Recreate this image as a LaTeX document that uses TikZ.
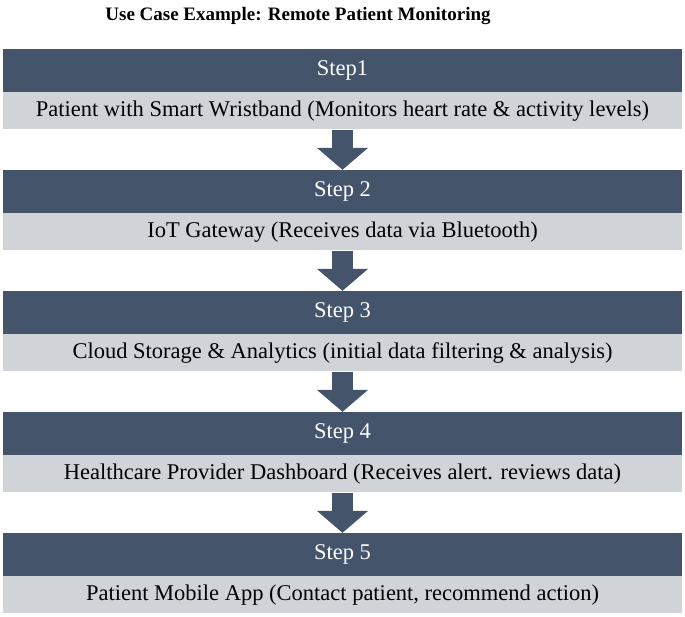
\documentclass[tikz,border=0pt]{standalone}
\usepackage{fontspec}
\setmainfont{Liberation Serif}
\usetikzlibrary{arrows.meta,positioning}
\definecolor{bandDark}{HTML}{44546A}
\definecolor{bandLight}{HTML}{D0D3D8}
\begin{document}
\begin{tikzpicture}[x=1pt,y=-1pt,
    stepbar/.style={fill=bandDark,text=white,minimum width=679pt,minimum height=43pt,inner sep=0pt,font=\fontsize{22.5}{26}\selectfont},
    descbar/.style={fill=bandLight,text=black,minimum width=679pt,minimum height=37pt,inner sep=0pt,font=\fontsize{22.5}{26}\selectfont},
    flow/.style={draw=bandDark,line width=21pt,-{Triangle[width=50pt,length=22pt]},shorten >=0pt}]
    \useasboundingbox (0,0) rectangle (685,617);
    \node[font=\fontsize{19}{22}\selectfont\bfseries] (title) at (298,16) {Use Case Example: Remote Patient Monitoring};
    % steps
    \node[stepbar] (d1) at (342.5,70.5) {Step1};
    \node[descbar,below=0pt of d1] (l1) {Patient with Smart Wristband (Monitors heart rate \& activity levels)};
    \node[stepbar] (d2) at (342.5,191.5) {Step 2};
    \node[descbar,below=0pt of d2] (l2) {IoT Gateway (Receives data via Bluetooth)};
    \node[stepbar] (d3) at (342.5,312.5) {Step 3};
    \node[descbar,below=0pt of d3] (l3) {Cloud Storage \& Analytics (initial data filtering \& analysis)};
    \node[stepbar] (d4) at (342.5,433.5) {Step 4};
    \node[descbar,below=0pt of d4] (l4) {Healthcare Provider Dashboard (Receives alert. reviews data)};
    \node[stepbar] (d5) at (342.5,554.5) {Step 5};
    \node[descbar,below=0pt of d5] (l5) {Patient Mobile App (Contact patient, recommend action)};
    % arrows
    \foreach \a/\b in {l1/d2,l2/d3,l3/d4,l4/d5}
        \draw[flow] (\a.south) -- (\b.north);
\end{tikzpicture}
\end{document}
